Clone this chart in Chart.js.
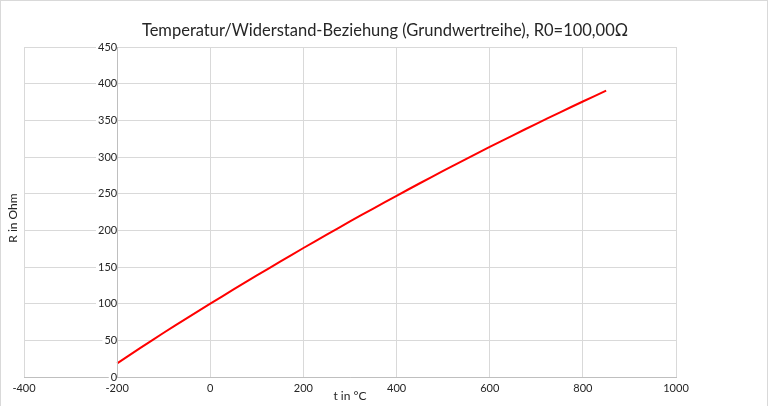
<!DOCTYPE html>
<html>
<head>
<meta charset="utf-8">
<script src="https://cdn.jsdelivr.net/npm/chart.js@4"></script>
<style>
  html, body { margin: 0; padding: 0; background: #fff; }
  #wrap { position: relative; width: 768px; height: 406px; box-sizing: border-box; border: 1px solid #d9d9d9; border-bottom: none; }
  canvas { display: block; }
</style>
</head>
<body>
<div id="wrap"><canvas id="rtd"></canvas></div>
<script>
const TITLE = 'Temperatur/Widerstand-Beziehung (Grundwertreihe), R0=100,00\u03A9';
const X_TITLE = 't in \u00B0C';
const Y_TITLE = 'R in Ohm';
// temperature points (°C) and resistance (Ohm)
const tempC = [-200, -150, -100, -50, 0, 50, 100, 150, 200, 250, 300, 350, 400, 450, 500, 550, 600, 650, 700, 750, 800, 850];
const resOhm = [18.5, 39.7, 60.3, 80.3, 100.0, 119.4, 138.5, 157.3, 175.9, 194.1, 212.1, 229.7, 247.1, 264.2, 281.0, 297.5, 313.7, 329.6, 345.3, 360.6, 375.7, 390.5];
const X_RANGE = [-400, 1000];
const Y_RANGE = [0, 450];

const FONT = 'Lato, "Open Sans", sans-serif';
const GRID = '#d9d9d9';

// title and y-axis caption drawn at fixed spots, like the spreadsheet chart
const captions = {
  id: 'captions',
  afterDraw(chart) {
    const { ctx } = chart;
    ctx.save();
    ctx.fillStyle = '#262626';
    ctx.textAlign = 'center';
    ctx.textBaseline = 'middle';
    ctx.font = '16.5px ' + FONT;
    ctx.fillText(TITLE, 384, 30);
    ctx.font = '12px ' + FONT;
    ctx.translate(12, 217);
    ctx.rotate(-Math.PI / 2);
    ctx.fillText(Y_TITLE, 0, 0);
    ctx.restore();
  }
};

new Chart(document.getElementById('rtd'), {
  type: 'line',
  data: {
    datasets: [{
      data: tempC.map((t, i) => ({ x: t, y: resOhm[i] })),
      borderColor: '#ff0000',
      borderWidth: 2,
      pointRadius: 0,
      tension: 0.3,
      fill: false
    }]
  },
  options: {
    responsive: true,
    maintainAspectRatio: false,
    animation: false,
    layout: { padding: { left: 23, right: 91, top: 46, bottom: 0 } },
    plugins: {
      legend: { display: false },
      title: { display: false },
      tooltip: { enabled: false }
    },
    scales: {
      x: {
        type: 'linear',
        min: X_RANGE[0],
        max: X_RANGE[1],
        ticks: {
          stepSize: 200, color: '#262626', font: { family: FONT, size: 11 }, padding: 5, maxRotation: 0,
          callback: (v) => String(v)
        },
        grid: { color: GRID, drawTicks: false },
        border: { color: '#bfbfbf' },
        title: { display: true, text: X_TITLE, color: '#262626', font: { family: FONT, size: 12 }, padding: { top: 0, bottom: 3 } },
        afterFit(scale) { scale.height = 29; }
      },
      y: {
        type: 'linear',
        position: { x: -200 },
        min: Y_RANGE[0],
        max: Y_RANGE[1],
        ticks: {
          stepSize: 50, color: '#262626', font: { family: FONT, size: 11 }, padding: 4,
          showLabelBackdrop: true, backdropColor: '#fff',
          backdropPadding: { top: 0, bottom: 0, left: 2, right: 0 }
        },
        grid: { color: GRID, drawTicks: false },
        border: { color: '#bfbfbf', z: 1 }
      }
    }
  },
  plugins: [captions]
});
</script>
</body>
</html>
